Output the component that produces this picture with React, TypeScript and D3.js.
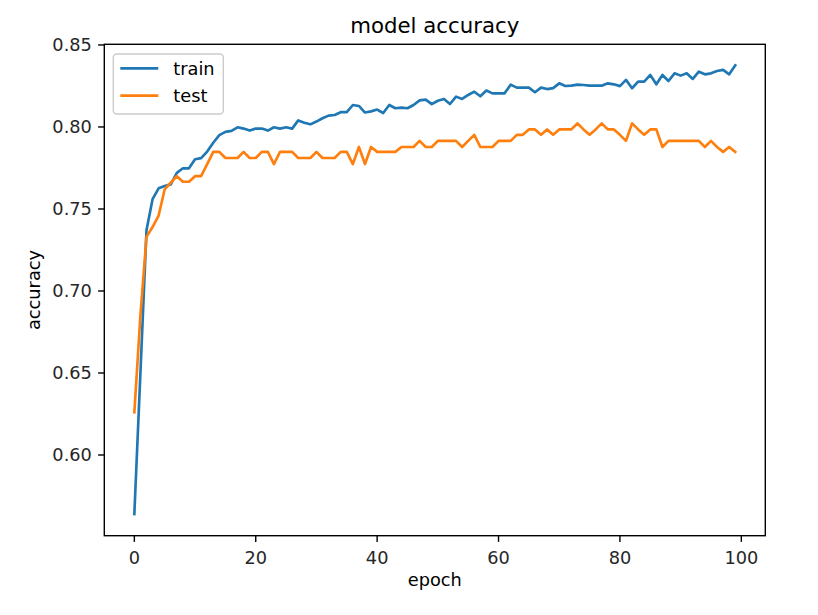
import * as d3 from 'd3'

// values (Keras history: acc / val_acc)
const epochs = d3.range(0, 100)

const trainAcc = [
  0.564, 0.65, 0.737, 0.756, 0.7626, 0.764, 0.765, 0.772, 0.7748, 0.7748,
  0.7803, 0.781, 0.785, 0.7904, 0.795, 0.797, 0.7976, 0.7998, 0.799, 0.7978,
  0.799, 0.799, 0.7978, 0.7998, 0.799, 0.7998, 0.799, 0.804, 0.8026, 0.8016,
  0.8033, 0.8053, 0.8069, 0.8073, 0.809, 0.809, 0.8134, 0.8128, 0.8088, 0.8095,
  0.8106, 0.8085, 0.8134, 0.8114, 0.8118, 0.8114, 0.8134, 0.8162, 0.8167, 0.8139,
  0.816, 0.8171, 0.814, 0.8185, 0.8171, 0.8195, 0.8215, 0.8187, 0.8222, 0.8205,
  0.8205, 0.8205, 0.8258, 0.824, 0.824, 0.824, 0.8212, 0.824, 0.8231, 0.8237,
  0.8266, 0.825, 0.8252, 0.8258, 0.8256, 0.8252, 0.8252, 0.8252, 0.8266, 0.826,
  0.8249, 0.8287, 0.8236, 0.8276, 0.8276, 0.8317, 0.826, 0.8317, 0.828, 0.8327,
  0.8313, 0.8327, 0.8293, 0.8337, 0.8321, 0.8327, 0.8341, 0.8348, 0.8321, 0.8376,
]

const testAcc = [
  0.626, 0.685, 0.733, 0.739, 0.746, 0.762, 0.766, 0.77, 0.7666, 0.7666,
  0.77, 0.77, 0.7774, 0.7848, 0.7848, 0.7811, 0.7811, 0.7811, 0.7848, 0.7811,
  0.7811, 0.7848, 0.7848, 0.7774, 0.7848, 0.7848, 0.7848, 0.7811, 0.7811, 0.7811,
  0.7848, 0.7811, 0.7811, 0.7811, 0.7848, 0.7848, 0.7774, 0.7878, 0.7774, 0.7878,
  0.7848, 0.7848, 0.7848, 0.7848, 0.7878, 0.7878, 0.7878, 0.7915, 0.7878, 0.7878,
  0.7915, 0.7915, 0.7915, 0.7915, 0.7878, 0.7915, 0.7952, 0.7878, 0.7878, 0.7878,
  0.7915, 0.7915, 0.7915, 0.7952, 0.7952, 0.7985, 0.7985, 0.7952, 0.7985, 0.7952,
  0.7985, 0.7985, 0.7985, 0.8022, 0.7985, 0.7952, 0.7985, 0.8022, 0.7985, 0.7985,
  0.7952, 0.7915, 0.8022, 0.7985, 0.7952, 0.7985, 0.7985, 0.7878, 0.7915, 0.7915,
  0.7915, 0.7915, 0.7915, 0.7915, 0.7878, 0.7915, 0.7878, 0.7848, 0.7878, 0.7848,
]

const seriesNames = ['train', 'test']
const seriesColors = ['#1f77b4', '#ff7f0e']
const xTicks = [0, 20, 40, 60, 80, 100]
const yTicks = [0.6, 0.65, 0.7, 0.75, 0.8, 0.85]
const X_DOMAIN: [number, number] = [-4.95, 103.95]
const Y_DOMAIN: [number, number] = [0.5508, 0.8504]

const W = 818
const H = 615
const FONT = '"DejaVu Sans", sans-serif'
const TICK_FS = 17.75

export default function App() {
  const margin = { top: 44.3, right: 52.7, bottom: 79.3, left: 104.3 }
  const x = d3.scaleLinear().domain(X_DOMAIN).range([margin.left, W - margin.right])
  const y = d3.scaleLinear().domain(Y_DOMAIN).range([H - margin.bottom, margin.top])

  const series = [trainAcc, testAcc]
  const line = d3.line<number>()
    .x((_, i) => x(epochs[i]))
    .y(d => y(d))

  const left = x.range()[0]
  const right = x.range()[1]
  const top = y.range()[1]
  const bottom = y.range()[0]
  const tickLen = 6.2
  const pad = 6.2

  return (
    <svg
      width={W}
      height={H}
      style={{ position: 'absolute', left: 0, top: 0, background: '#fff' }}
      fontFamily={FONT}
    >
      <rect x={0} y={0} width={W} height={H} fill="#fff" />

      {/* data lines, clipped to the axes */}
      <clipPath id="plot">
        <rect x={left} y={top} width={right - left} height={bottom - top} />
      </clipPath>
      <g clipPath="url(#plot)">
        {series.map((s, k) => (
          <path
            key={seriesNames[k]}
            d={line(s) ?? ''}
            fill="none"
            stroke={seriesColors[k]}
            strokeWidth={2.66}
            strokeLinejoin="round"
            strokeLinecap="square"
          />
        ))}
      </g>

      {/* spines */}
      <rect x={left} y={top} width={right - left} height={bottom - top} fill="none" stroke="#000" strokeWidth={1.4} />

      {/* x axis */}
      {xTicks.map(t => (
        <g key={t} transform={`translate(${x(t)},0)`}>
          <line y1={bottom} y2={bottom + tickLen} stroke="#000" strokeWidth={1.4} />
          <text y={bottom + tickLen + pad + 16} textAnchor="middle" fontSize={TICK_FS} fill="#262626">
            {t}
          </text>
        </g>
      ))}

      {/* y axis */}
      {yTicks.map(t => (
        <g key={t} transform={`translate(0,${y(t)})`}>
          <line x1={left - tickLen} x2={left} stroke="#000" strokeWidth={1.4} />
          <text x={left - tickLen - pad} y={6.4} textAnchor="end" fontSize={TICK_FS} fill="#262626">
            {t.toFixed(2)}
          </text>
        </g>
      ))}

      {/* labels */}
      <text x={(left + right) / 2} y={33} textAnchor="middle" fontSize={21.3} fill="#000">
        model accuracy
      </text>
      <text x={(left + right) / 2} y={586} textAnchor="middle" fontSize={TICK_FS} fill="#000">
        epoch
      </text>
      <text
        transform={`translate(40,${(top + bottom) / 2}) rotate(-90)`}
        textAnchor="middle"
        fontSize={TICK_FS}
        fill="#000"
      >
        accuracy
      </text>

      {/* legend */}
      <g transform={`translate(${left + 9},${top + 9.7})`}>
        <rect x={0} y={0} width={110} height={60} rx={3.5} fill="#fff" fillOpacity={0.8} stroke="#ccc" strokeWidth={1.4} />
        {seriesNames.map((name, k) => (
          <g key={name} transform={`translate(0,${14.3 + k * 27.4})`}>
            <line x1={7} x2={45} stroke={seriesColors[k]} strokeWidth={2.66} />
            <text x={60} y={6.4} fontSize={TICK_FS} fill="#000">
              {name}
            </text>
          </g>
        ))}
      </g>
    </svg>
  )
}
